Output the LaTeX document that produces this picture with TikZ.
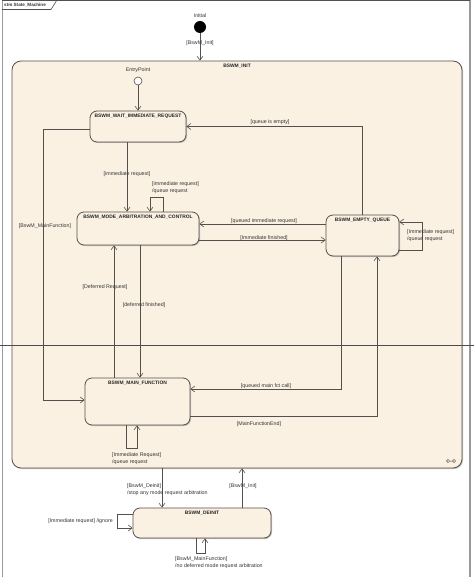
\documentclass[tikz,border=0pt]{standalone}
\usepackage{fontspec}
\setmainfont{Liberation Sans}
\usetikzlibrary{arrows.meta, shadows}
\definecolor{statefill}{RGB}{251,241,227}
\definecolor{edge}{RGB}{85,80,75}

\begin{document}
\begin{tikzpicture}[x=1pt, y=-1pt, state/.style={draw=edge, line width=0.8pt,
      fill=statefill, rounded corners=7pt, inner sep=0pt, drop shadow={shadow
      xshift=1pt, shadow yshift=-1pt, fill=black!35, opacity=.7}},
    title/.style={anchor=north, inner sep=0pt,
      font=\bfseries\fontsize{4.9}{6}\selectfont, text=black!85},
    trans/.style={draw=edge, line width=0.6pt, -{Straight Barb[length=4pt,
      width=6pt]}}, lbl/.style={inner sep=0pt, align=left,
      font=\fontsize{5.3}{7}\selectfont, text=black!80}, ]
    \useasboundingbox (0,0) rectangle (474,577);

    % Frame
    \draw[black!40, line width=0.6pt] (2,0) -- (2,577); \draw[black!40, line
    width=2pt] (470,0) -- (470,577); \draw[edge, line width=0.6pt] (2,0.3) --
    (470,0.3); \draw[edge, line width=0.6pt] (2,9.5) -- (51,9.5) -- (57,0);
    \node[lbl, anchor=west, font=\bfseries\fontsize{4.6}{6}\selectfont] (frame)
    at (4,4.7) {stm State\_Machine};

    % Composite state
    \node[state, rounded corners=9pt, minimum width=450pt, minimum height=407pt]
    (init) at (237,264.5) {}; \node[title] (initT) at ([yshift=-3pt]init.north)
    {BSWM\_INIT}; \draw[edge, line width=0.5pt] (448,461) circle (1.6) (454,461)
    circle (1.6) (449.6,461) -- (452.4,461);

    % Pseudo states
    \node[circle, fill=black, minimum size=12pt, inner sep=0pt] (initial) at
    (200,27) {}; \node[lbl] (initialT) at (200,16) {Initial};
    \node[circle, draw=edge, line width=0.6pt, fill=white, minimum size=8pt,
    inner sep=0pt] (entry) at (138,81) {}; \node[lbl] (entryT) at (138,70)
    {EntryPoint};

    % States
    \node[state, minimum width=96pt, minimum height=31pt] (wait) at (138,126.5)
    {}; \node[state, minimum width=122pt, minimum height=33pt] (mode) at
    (138,228.5) {}; \node[state, minimum width=73pt, minimum height=41pt] (empty)
    at (362.5,235.5) {}; \node[state, minimum width=105pt, minimum height=47pt]
    (main) at (137.5,401.5) {}; \node[state, minimum width=138pt, minimum
    height=30pt] (deinit) at (202,523) {};

    % State titles
    \node[title] (waitT) at ([yshift=-3pt]wait.north)
    {BSWM\_WAIT\_IMMEDIATE\_REQUEST}; \node[title] (modeT) at
    ([yshift=-3pt]mode.north) {BSWM\_MODE\_ARBITRATION\_AND\_CONTROL};
    \node[title] (emptyT) at ([yshift=-3pt]empty.north) {BSWM\_EMPTY\_QUEUE};
    \node[title] (mainT) at ([yshift=-3pt]main.north) {BSWM\_MAIN\_FUNCTION};
    \node[title] (deinitT) at ([yshift=-3pt]deinit.north) {BSWM\_DEINIT};

    % Transitions
    \draw[trans] (initial) -- (init.north -| initial); \draw[trans] (entry) --
    (wait.north -| entry); \draw[trans] (wait.south -| 127,0) -- (mode.north -|
    127,0); \draw[trans] (mode.north -| 163,0) -- (163,197) -- (150,197) --
    (mode.north -| 150,0); \draw[trans] (empty.north) |- (wait.east);
    \draw[trans] (empty.west |- 0,224) -- (mode.east |- 0,224); \draw[trans]
    (mode.east |- 0,240) -- (empty.west |- 0,240); \draw[trans] (empty.east |-
    0,250) -- (422,250) -- (422,222) -- (empty.east |- 0,222); \draw[trans]
    (wait.west |- 0,129) -| (43,400) -- (main.west |- 0,400); \draw[trans]
    (main.north -| 114,0) -- (mode.south -| 114,0); \draw[trans] (mode.south -|
    140,0) -- (main.north -| 140,0); \draw[trans] (empty.south -| 341,0) |-
    (main.east |- 0,389); \draw[trans] (main.east |- 0,416) -| (empty.south -|
    377,0); \draw[trans] (main.south -| 126,0) -- (126,448) -- (137,448) --
    (main.south -| 137,0); \draw[trans] (init.south -| 162,0) -- (deinit.north
    -| 162,0); \draw[trans] (deinit.north -| 242,0) -- (init.south -| 242,0);
    \draw[trans] (deinit.west |- 0,514) -- (117,514) -- (117,528) -- (deinit.west
    |- 0,528); \draw[trans] (deinit.south -| 196,0) -- (196,553) -- (205,553) --
    (deinit.south -| 205,0);

    % Guards
    \node[lbl] (gInit) at (200,43) {[BswM\_Init]};
    \node[lbl] (gImm) at (127,174) {[immediate request]};
    \node[lbl, anchor=north west] (gModeLoop) at (152,181) {[immediate
    request]\\/queue request}; \node[lbl] (gEmpty) at (270,122) {[queue is
    empty]}; \node[lbl] (gQueued) at (264,221) {[queued immediate request]};
    \node[lbl] (gFinished) at (264,238) {[Immediate finished]};
    \node[lbl, anchor=north west] (gEmptyLoop) at (407,229) {[Immediate
    request]\\/queue request}; \node[lbl] (gMainFct) at (45,226)
    {[BswM\_MainFunction]}; \node[lbl] (gDeferred) at (105,287) {[Deferred
    Request]}; \node[lbl] (gDefFin) at (144,305) {[deferred finished]};
    \node[lbl] (gMainCall) at (266,386) {[queued main fct call]};
    \node[lbl] (gMainEnd) at (259,424) {[MainFunctionEnd]};
    \node[lbl, anchor=north west] (gMainLoop) at (112,452) {[Immediate
    Request]\\/queue request}; \node[lbl, anchor=north west] (gDeinit) at
    (127,483) {[BswM\_Deinit]\\/stop any mode request arbitration};
    \node[lbl] (gReinit) at (243,486) {[BswM\_Init]}; \node[lbl, anchor=east]
    (gIgnore) at (113,521) {[Immediate request] /ignore}; \node[lbl,
    anchor=north west] (gNoDef) at (175,556) {[BswM\_MainFunction]\\/no
    deferred mode request arbitration};

    % Seam line
    \draw[black!70, line width=0.8pt] (0,345) -- (474,345);

\end{tikzpicture}
\end{document}
